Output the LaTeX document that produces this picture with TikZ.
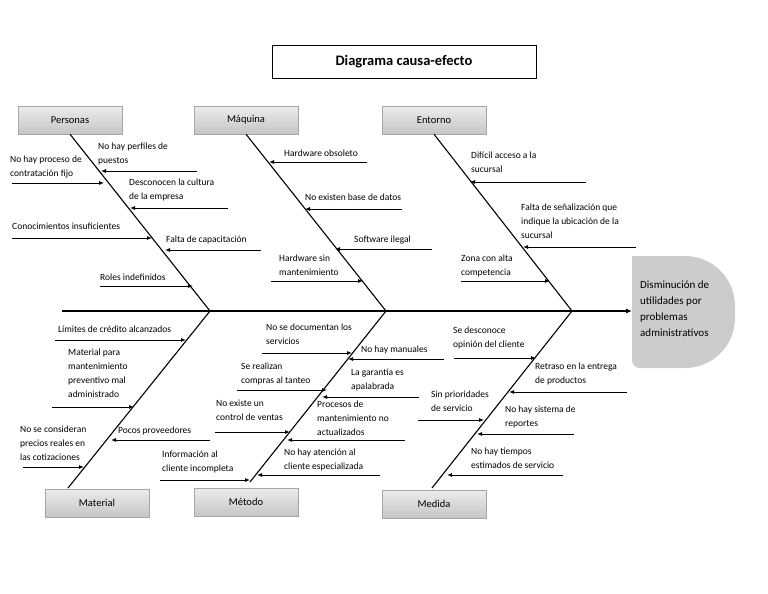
\documentclass[tikz,border=0pt]{standalone}
\usepackage{fontspec}
\setmainfont{Carlito}
\usetikzlibrary{arrows.meta}
\tikzset{
  cat/.style={draw=gray!70,top color=gray!15,bottom color=gray!45,minimum width=104pt,minimum height=28pt,font=\fontsize{10.5}{12}\selectfont},
  lbl/.style={anchor=north west,align=left,inner sep=0pt,yshift=-2pt,font=\fontsize{9.5}{14}\selectfont},
  bone/.style={line width=1.1pt},
  cause/.style={line width=0.9pt,-{Latex[length=5pt,width=4pt]}},
}
% horizontal cause arrow: from x #1 to x #2 at height #3, start named #4
\newcommand{\causa}[4]{\coordinate (#4) at (#1,#3); \draw[cause] (#4) -- (#2,#3);}

\begin{document}
\begin{tikzpicture}[x=1pt,y=-1pt]
  \useasboundingbox (0,0) rectangle (768,594);
  % title
  \node[draw,minimum width=264pt,minimum height=33pt,font=\bfseries\fontsize{14.5}{16}\selectfont] (titulo) at (404,61.5) {Diagrama causa-efecto};
  % categories
  \node[cat] (personas) at (70,120) {Personas};
  \node[cat] (maquina) at (246,120) {Máquina};
  \node[cat] (entorno) at (434,120) {Entorno};
  \node[cat] (material) at (97,503) {Material};
  \node[cat] (metodo) at (246,502) {Método};
  \node[cat] (medida) at (434,504) {Medida};
  % effect head
  \fill[gray!40] (632,256) -- (685,256) arc[start angle=-90,end angle=0,radius=50] -- (735,318)
    arc[start angle=0,end angle=90,radius=50] -- (640,368) arc[start angle=90,end angle=180,radius=8] -- cycle;
  \node[anchor=west,align=left,inner sep=0pt,font=\fontsize{11}{16}\selectfont] (efecto) at (640,309) {Disminución de\\utilidades por\\problemas\\administrativos};
  % spine and bones
  \coordinate (cola) at (62,311);
  \coordinate (j1) at (210,311);
  \coordinate (j2) at (386,311);
  \coordinate (j3) at (572,311);
  \coordinate (punta) at (632,311);
  \coordinate (m1) at (68,488);
  \coordinate (m2) at (250,482);
  \coordinate (m3) at (432,488);
  \draw[line width=1.1pt,-{Latex[length=6pt,width=5pt]}] (cola) -- (punta);
  \draw[bone] (personas.south) -- (j1);
  \draw[bone] (maquina.south) -- (j2);
  \draw[bone] (entorno.south) -- (j3);
  \draw[bone] (j1) -- (m1);
  \draw[bone] (j2) -- (m2);
  \draw[bone] (j3) -- (m3);
  % Personas
  \node[lbl] (p1) at (98,141) {No hay perfiles de\\puestos};
  \causa{197}{101}{171}{a1}
  \node[lbl] (p2) at (10,154) {No hay proceso de\\contratación fijo};
  \causa{12}{104}{183}{a2}
  \node[lbl] (p3) at (129,177) {Desconocen la cultura\\de la empresa};
  \causa{228}{130}{208}{a3}
  \node[lbl] (p4) at (12,221) {Conocimientos insuficientes};
  \causa{12}{152}{238}{a4}
  \node[lbl] (p5) at (166,234) {Falta de capacitación};
  \causa{261}{165}{250}{a5}
  \node[lbl] (p6) at (100,272) {Roles indefinidos};
  \causa{100}{193}{286}{a6}
  % Maquina
  \node[lbl] (q1) at (284,148) {Hardware obsoleto};
  \causa{367}{269}{162}{b1}
  \node[lbl] (q2) at (305,192) {No existen base de datos};
  \causa{402}{305}{209}{b2}
  \node[lbl] (q3) at (354,234) {Software ilegal};
  \causa{432}{335}{249}{b3}
  \node[lbl] (q4) at (279,253) {Hardware sin\\mantenimiento};
  \causa{271}{363}{281}{b4}
  % Entorno
  \node[lbl] (e1) at (471,150) {Difícil acceso a la\\sucursal};
  \causa{586}{470}{182}{c1}
  \node[lbl] (e2) at (521,202) {Falta de señalización que\\indique la ubicación de la\\sucursal};
  \causa{636}{523}{247}{c2}
  \node[lbl] (e3) at (461,253) {Zona con alta\\competencia};
  \causa{461}{550}{281}{c3}
  % Material
  \node[lbl] (r1) at (58,324) {Límites de crédito alcanzados};
  \causa{55}{186}{340}{d1}
  \node[lbl] (r2) at (68,347) {Material para\\mantenimiento\\preventivo mal\\administrado};
  \causa{52}{134}{407}{d2}
  \node[lbl] (r3) at (20,424) {No se consideran\\precios reales en\\las cotizaciones};
  \causa{23}{84}{467}{d3}
  \node[lbl] (r4) at (118,425) {Pocos proveedores};
  \causa{210}{111}{440}{d4}
  % Metodo
  \node[lbl] (t1) at (266,322) {No se documentan los\\servicios};
  \causa{262}{352}{353}{f1}
  \node[lbl] (t2) at (361,344) {No hay manuales};
  \causa{444}{348}{359}{f2}
  \node[lbl] (t3) at (241,361) {Se realizan\\compras al tanteo};
  \causa{237}{327}{390}{f3}
  \node[lbl] (t4) at (351,367) {La garantía es\\apalabrada};
  \causa{419}{322}{397}{f4}
  \node[lbl] (t5) at (216,398) {No existe un\\control de ventas};
  \causa{215}{290}{432}{f5}
  \node[lbl] (t6) at (317,399) {Procesos de\\mantenimiento no\\actualizados};
  \causa{405}{287}{440}{f6}
  \node[lbl] (t7) at (284,447) {No hay atención al\\cliente especializada};
  \causa{380}{257}{475}{f7}
  \node[lbl] (t8) at (162,449) {Información al\\cliente incompleta};
  \causa{160}{250}{480}{f8}
  % Medida
  \node[lbl] (s1) at (453,325) {Se desconoce\\opinión del cliente};
  \causa{454}{536}{358}{g1}
  \node[lbl] (s2) at (535,361) {Retraso en la entrega\\de productos};
  \causa{627}{509}{392}{g2}
  \node[lbl] (s3) at (431,389) {Sin prioridades\\de servicio};
  \causa{418}{484}{420}{g3}
  \node[lbl] (s4) at (505,404) {No hay sistema de\\reportes};
  \causa{574}{477}{434}{g4}
  \node[lbl] (s5) at (471,446) {No hay tiempos\\estimados de servicio};
  \causa{563}{447}{475}{g5}
\end{tikzpicture}
\end{document}
